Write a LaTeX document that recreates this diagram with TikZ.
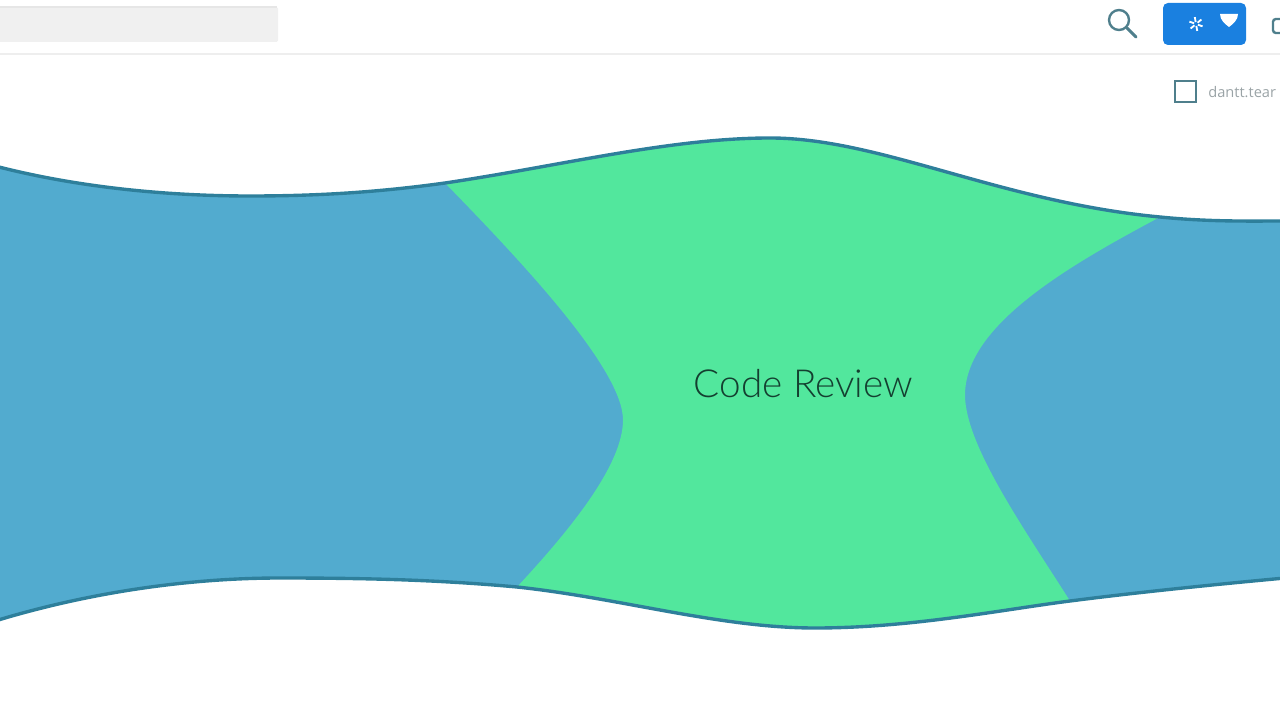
\documentclass[tikz,border=0pt]{standalone}
\usepackage{fontspec}
\newfontfamily\labelfont{Lato Light}
\newfontfamily\smallfont{Open Sans}
\usetikzlibrary{positioning,calc}
\definecolor{colorBand}{HTML}{52ABCF}
\definecolor{colorReview}{HTML}{52E79D}
\definecolor{colorEdge}{HTML}{2E7F9B}
\definecolor{colorButton}{HTML}{1A80E0}
\definecolor{colorBar}{HTML}{F0F0F0}
\definecolor{colorBarTop}{HTML}{E6E6E6}
\definecolor{colorRule}{HTML}{EEEEEE}
\definecolor{colorIcon}{HTML}{4F7F8C}
\definecolor{colorLabel}{HTML}{143F30}
\definecolor{colorSmall}{HTML}{9AA3A6}
\newcommand{\topedge}{(-5,166) .. controls (80,188) and (170,196) .. (250,196)
    .. controls (320,196) and (380,192) .. (445,183)
    .. controls (560,166) and (670,138) .. (770,138)
    .. controls (880,138) and (1000,202) .. (1160,217)
    .. controls (1210,222) and (1250,221) .. (1285,221)}
\newcommand{\bottomedge}{(-5,621) .. controls (80,595) and (180,578) .. (280,578)
    .. controls (370,578) and (440,580) .. (517,587)
    .. controls (620,598) and (720,628) .. (815,628)
    .. controls (910,628) and (1000,610) .. (1070,601)
    .. controls (1140,592) and (1220,584) .. (1285,578)}
\begin{document}
\begin{tikzpicture}[
        x=0.025cm,y=-0.025cm,
        edge/.style={colorEdge,line width=2.4pt,line cap=round},
        icon/.style={colorIcon,line width=1.7pt}
    ]

    % Fix the page
    \path[use as bounding box] (0,0) rectangle (1280,720);
    \clip (0,0) rectangle (1280,720);

    % Draw the band and its middle part
    \begin{scope}
        \clip \topedge -- (1285,720) -- (-5,720) -- cycle;
        \clip \bottomedge -- (1285,0) -- (-5,0) -- cycle;
        \fill[colorBand] (-5,100) rectangle (1285,660);
        \fill[colorReview] (445,183)
            .. controls (525,265) and (623,370) .. (623,420)
            .. controls (623,465) and (570,530) .. (517,587) -- (500,640) -- (1090,640) -- (1070,601)
            .. controls (1025,530) and (965,445) .. (965,395)
            .. controls (965,325) and (1070,265) .. (1160,217) -- (1170,120) -- (430,120) -- cycle;
    \end{scope}

    % Draw the two edges
    \draw[edge] \topedge;
    \draw[edge] \bottomedge;

    \node[font=\labelfont\fontsize{27.5}{33}\selectfont,colorLabel,inner sep=0pt] (review) at (803.5,384) {Code Review};

    % Top bar
    \fill[colorBar,rounded corners=1pt] (-5,7) rectangle (278,42);
    \draw[colorBarTop,line width=1pt] (-5,7) -- (277,7);
    \draw[colorRule,line width=1pt] (0,54) -- (1280,54);

    \draw[icon] (1119,20) circle (10);
    \draw[icon,line width=2.1pt,line cap=round] (1127,28) -- (1136,37);

    \fill[colorButton,rounded corners=3.5pt] (1163,3) rectangle (1246,45);
    \fill[white] (1220,14) -- (1238,14) .. controls (1238,20) and (1233,24) .. (1229,27) .. controls (1225,24) and (1220,20) .. (1220,14) -- cycle;
    \foreach \a in {20,80,...,320}
        \draw[white,line width=1.3pt] ($(1196,24)+(\a:2)$) -- ($(1196,24)+(\a:7)$);

    \draw[icon,rounded corners=2pt] (1285,33) -- (1273,33) -- (1273,19) -- (1285,19);

    % Checkbox and its text
    \draw[icon,line width=1.1pt] (1175,81) rectangle (1196,102);
    \node[font=\smallfont\fontsize{10.4}{12}\selectfont,colorSmall,inner sep=0pt,anchor=west] (tear) at (1208,92) {dantt.tear};

\end{tikzpicture}
\end{document}
